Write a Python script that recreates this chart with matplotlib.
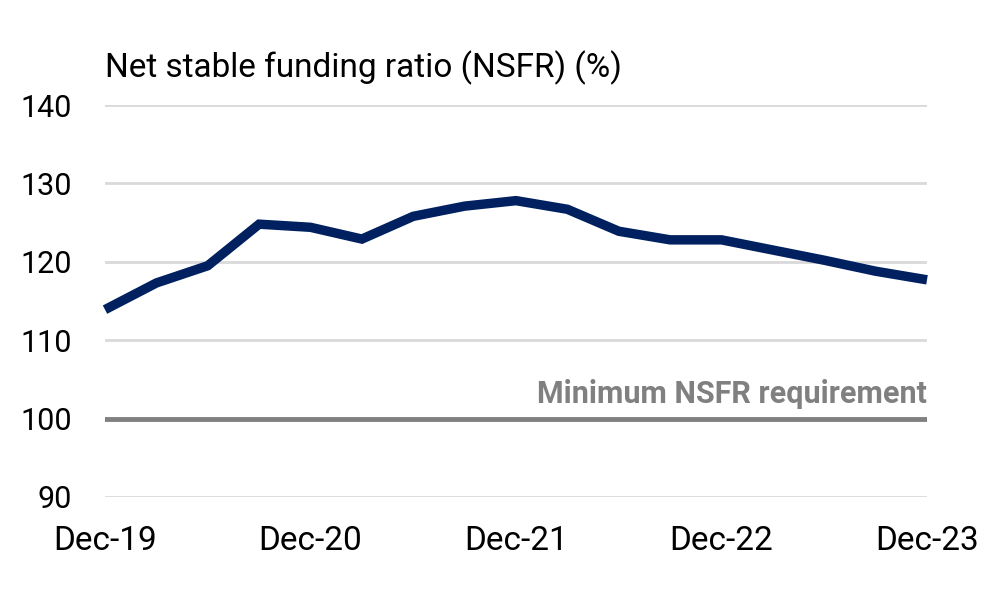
import matplotlib.pyplot as plt

plt.rcParams['font.family'] = ['Roboto', 'DejaVu Sans']

# 季度数据 Dec-19 .. Dec-23
quarters = ['Dec-19', 'Mar-20', 'Jun-20', 'Sep-20', 'Dec-20', 'Mar-21', 'Jun-21', 'Sep-21',
            'Dec-21', 'Mar-22', 'Jun-22', 'Sep-22', 'Dec-22', 'Mar-23', 'Jun-23', 'Sep-23', 'Dec-23']
nsfr = [113.9, 117.3, 119.5, 124.8, 124.4, 122.9, 125.8, 127.1,
        127.8, 126.7, 123.9, 122.8, 122.8, 121.5, 120.2, 118.8, 117.7]
minimum = 100
yticks = [90, 110, 120, 130, 140]
ytick_labels = ['90', '100', '110', '120', '130', '140']

fig = plt.figure(figsize=(9.91, 5.89), dpi=100)
ax = fig.add_axes([105 / 991, 1 - 497 / 589, (927 - 105) / 991, (497 - 105) / 589])

x = list(range(len(quarters)))
for v in yticks:
    ax.axhline(v, color='#d9d9d9', lw=2, zorder=1)
ax.axhline(minimum, color='#808080', lw=3.5, zorder=2)
ax.plot(x, nsfr, color='#002060', lw=6.8, solid_capstyle='butt', solid_joinstyle='miter',
        zorder=3, clip_on=False)

ax.text(len(quarters) - 1, 101.2, 'Minimum NSFR requirement', color='#808080',
        fontsize=22, fontweight='bold', ha='right', va='bottom')

ax.set_xlim(0, len(quarters) - 1)
ax.set_ylim(90, 140)
ax.set_yticks([90, 100, 110, 120, 130, 140])
ax.set_yticklabels(ytick_labels)
ax.set_xticks(x[::4])
ax.set_xticklabels(quarters[::4])
ax.tick_params(length=0, colors='#000000')
ax.tick_params(axis='y', pad=24, labelsize=22)
ax.tick_params(axis='x', pad=20, labelsize=24)
for s in ax.spines.values():
    s.set_visible(False)

fig.text(105 / 991, 1 - 68 / 589, 'Net stable funding ratio (NSFR) (%)', fontsize=24,
         ha='left', va='center')

plt.savefig('out.png', dpi=100)
